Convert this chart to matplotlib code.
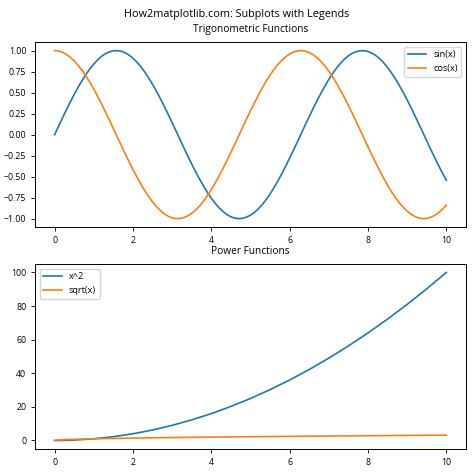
import matplotlib
matplotlib.use("Agg")
import matplotlib.pyplot as plt

plt.rcParams['font.family'] = ['Open Sans', 'DejaVu Sans']

x_trig = [round(0.1 * i, 1) for i in range(101)]
sin_vals = [0.000, 0.100, 0.199, 0.296, 0.389, 0.479, 0.565, 0.644, 0.717, 0.783,
            0.841, 0.891, 0.932, 0.964, 0.985, 0.997, 1.000, 0.992, 0.974, 0.946,
            0.909, 0.863, 0.808, 0.746, 0.675, 0.598, 0.516, 0.427, 0.335, 0.239,
            0.141, 0.042, -0.058, -0.158, -0.256, -0.351, -0.443, -0.530, -0.612, -0.688,
            -0.757, -0.818, -0.872, -0.916, -0.952, -0.978, -0.994, -1.000, -0.996, -0.982,
            -0.959, -0.926, -0.883, -0.832, -0.773, -0.706, -0.631, -0.551, -0.465, -0.374,
            -0.279, -0.182, -0.083, 0.017, 0.117, 0.215, 0.312, 0.405, 0.494, 0.578,
            0.657, 0.729, 0.794, 0.850, 0.899, 0.938, 0.968, 0.988, 0.998, 0.999,
            0.989, 0.970, 0.941, 0.903, 0.855, 0.798, 0.734, 0.663, 0.585, 0.501,
            0.412, 0.319, 0.223, 0.124, 0.025, -0.075, -0.175, -0.272, -0.366, -0.458,
            -0.544]
cos_vals = [1.000, 0.995, 0.980, 0.955, 0.921, 0.878, 0.825, 0.765, 0.697, 0.622,
            0.540, 0.454, 0.362, 0.267, 0.170, 0.071, -0.029, -0.129, -0.227, -0.323,
            -0.416, -0.505, -0.589, -0.666, -0.737, -0.801, -0.857, -0.904, -0.942, -0.971,
            -0.990, -0.999, -0.998, -0.987, -0.967, -0.936, -0.897, -0.848, -0.791, -0.726,
            -0.654, -0.575, -0.490, -0.401, -0.307, -0.211, -0.112, -0.012, 0.088, 0.187,
            0.284, 0.378, 0.469, 0.554, 0.635, 0.709, 0.776, 0.835, 0.886, 0.927,
            0.960, 0.983, 0.997, 1.000, 0.993, 0.977, 0.951, 0.915, 0.869, 0.816,
            0.754, 0.684, 0.608, 0.526, 0.439, 0.347, 0.251, 0.153, 0.054, -0.046,
            -0.146, -0.243, -0.339, -0.431, -0.519, -0.602, -0.679, -0.749, -0.811, -0.865,
            -0.911, -0.948, -0.975, -0.993, -1.000, -0.997, -0.984, -0.962, -0.930, -0.889,
            -0.839]

x_pow = [0.0, 0.05, 0.1, 0.25, 0.5, 1.0, 1.5, 2.0, 2.5, 3.0, 3.5, 4.0, 4.5, 5.0,
         5.5, 6.0, 6.5, 7.0, 7.5, 8.0, 8.5, 9.0, 9.5, 10.0]
sq_vals = [0.0, 0.0, 0.01, 0.06, 0.25, 1.0, 2.25, 4.0, 6.25, 9.0, 12.25, 16.0,
           20.25, 25.0, 30.25, 36.0, 42.25, 49.0, 56.25, 64.0, 72.25, 81.0, 90.25, 100.0]
sqrt_vals = [0.0, 0.22, 0.32, 0.5, 0.71, 1.0, 1.22, 1.41, 1.58, 1.73, 1.87, 2.0,
             2.12, 2.24, 2.35, 2.45, 2.55, 2.65, 2.74, 2.83, 2.92, 3.0, 3.08, 3.16]

fs = 6.3

fig = plt.figure(figsize=(4.74, 4.74), dpi=100)
ax1 = fig.add_axes([0.074, 0.521, 0.909, 0.390])
ax2 = fig.add_axes([0.074, 0.053, 0.909, 0.390])

ax1.plot(x_trig, sin_vals, label='sin(x)', lw=1.2)
ax1.plot(x_trig, cos_vals, label='cos(x)', lw=1.2)
ax1.set_title('Trigonometric Functions', fontsize=7.3, pad=7.5)
ax1.legend(loc='upper right', fontsize=6.6)

ax2.plot(x_pow, sq_vals, label='x^2', lw=1.2)
ax2.plot(x_pow, sqrt_vals, label='sqrt(x)', lw=1.2)
ax2.set_title('Power Functions', fontsize=7.3, pad=7.5)
ax2.legend(loc='upper left', fontsize=6.6)

for ax in (ax1, ax2):
    ax.tick_params(labelsize=fs, length=2.8, width=0.6)
    for s in ax.spines.values():
        s.set_linewidth(0.7)

fig.suptitle('How2matplotlib.com: Subplots with Legends', fontsize=7.8, y=0.98)

fig.savefig('out.png', dpi=100)
